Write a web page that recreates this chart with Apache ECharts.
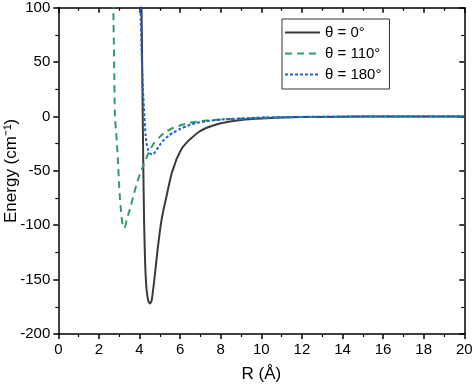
<!DOCTYPE html>
<html>
<head>
<meta charset="utf-8">
<script src="https://cdn.jsdelivr.net/npm/echarts@6/dist/echarts.min.js"></script>
<style>html,body{margin:0;padding:0;background:#fff;}#c{width:474px;height:387px;}</style>
</head>
<body>
<div id="c"></div>
<script>
var seriesNames = ['θ = 0°', 'θ = 110°', 'θ = 180°'];
var theta0 = [[4.07,150],[4.1,100],[4.13,50],[4.16,0],[4.19,-50],[4.23,-100],[4.28,-136],[4.33,-155],[4.38,-164],[4.44,-170],[4.52,-172],[4.6,-169],[4.68,-158],[4.76,-145],[4.83,-133],[4.9,-121],[4.98,-109],[5.06,-98],[5.18,-86],[5.3,-76],[5.45,-63],[5.59,-52],[5.72,-45],[5.83,-39],[6.1,-29],[6.3,-24.5],[6.49,-21],[6.9,-14.5],[7.31,-10.4],[7.7,-7.8],[8.13,-5.8],[8.79,-3.7],[9.4,-2.6],[10,-1.8],[11,-1],[12,-0.6],[14,-0.2],[16,-0.1],[20,0]];
var theta110 = [[2.66,150],[2.71,100],[2.75,50],[2.79,0],[2.84,-12],[2.88,-23],[2.93,-38],[2.99,-61],[3.04,-76],[3.09,-87],[3.14,-96],[3.19,-101],[3.25,-102.5],[3.31,-100],[3.37,-95],[3.45,-90],[3.53,-85],[3.7,-73],[3.86,-62],[4.02,-53],[4.19,-45],[4.43,-34],[4.7,-25],[5.01,-18.5],[5.3,-14],[5.67,-10.4],[6.1,-7.6],[6.49,-5.8],[7.31,-3.7],[8,-2.8],[8.79,-2.1],[10,-1.2],[12,-0.5],[14,-0.2],[20,0]];
var theta180 = [[4.0,150],[4.05,100],[4.1,60],[4.17,25],[4.24,0],[4.3,-17],[4.36,-26],[4.43,-31],[4.52,-34],[4.62,-35],[4.72,-34],[4.85,-30.5],[5.01,-26],[5.15,-22.5],[5.3,-19.8],[5.48,-17],[5.67,-14.8],[6.0,-11.5],[6.49,-7.6],[6.9,-5.6],[7.31,-4.3],[8,-2.9],[9,-1.8],[10,-1],[12,-0.4],[14,-0.15],[20,0]];
var xTicks = [0,2,4,6,8,10,12,14,16,18,20];
var yTicks = [-200,-150,-100,-50,0,50,100];

var font = 'Liberation Sans, Arial, sans-serif';
var axisLine = {show:true, onZero:false, lineStyle:{color:'#000', width:1.5}};
function xAx(pos, inside, labels){
  return {type:'value', position:pos, min:xTicks[0], max:xTicks[xTicks.length-1], interval:2,
    axisLine:axisLine,
    axisTick:{show:true, inside:inside, length:5, lineStyle:{color:'#000', width:1.5}},
    minorTick:{show:true, splitNumber:2, length:3, lineStyle:{color:'#000', width:1.2}},
    axisLabel:{show:labels, color:'#000', fontSize:15, fontFamily:font, margin:8},
    splitLine:{show:false},
    name: labels ? 'R (Å)' : '', nameLocation:'middle', nameGap:32, nameMoveOverlap:false,
    nameTextStyle:{color:'#000', fontSize:17, fontFamily:font}};
}
function yAx(pos, inside, labels){
  return {type:'value', position:pos, min:yTicks[0], max:yTicks[yTicks.length-1], interval:50,
    axisLine:axisLine,
    axisTick:{show:true, inside:inside, length:5, lineStyle:{color:'#000', width:1.5}},
    minorTick:{show:true, splitNumber:2, length:3, lineStyle:{color:'#000', width:1.2}},
    axisLabel:{show:labels, color:'#000', fontSize:15, fontFamily:font, margin:8},
    splitLine:{show:false},
    name: labels ? 'Energy (cm⁻¹)' : '', nameLocation:'middle', nameGap:47, nameRotate:90, nameMoveOverlap:false,
    nameTextStyle:{color:'#000', fontSize:17, fontFamily:font, verticalAlign:'middle'}};
}
var chart = echarts.init(document.getElementById('c'), null, {renderer:'canvas'});
chart.setOption({
  animation:false,
  backgroundColor:'#fff',
  grid:{left:58.3, right:9.7, top:7.7, bottom:53, containLabel:false, outerBoundsMode:'none'},
  xAxis:[xAx('bottom', false, true), xAx('top', true, false)],
  yAxis:[yAx('left', false, true), yAx('right', true, false)],
  legend:{
    show:true, left:282, top:19, orient:'vertical', itemGap:6, itemWidth:35, itemHeight:14,
    padding:[6,8,7,2], borderColor:'#333', borderWidth:1, borderRadius:0,
    textStyle:{color:'#000', fontSize:15, fontFamily:font},
    itemStyle:{opacity:0},
    data:seriesNames
  },
  series:[
    {name:seriesNames[0], type:'line', data:theta0, showSymbol:false, symbol:'none', smooth:0.2, clip:true,
      lineStyle:{color:'#3a3a3a', width:2, type:'solid'}, itemStyle:{color:'#3a3a3a'}},
    {name:seriesNames[1], type:'line', data:theta110, showSymbol:false, symbol:'none', smooth:0.2, clip:true,
      lineStyle:{color:'#2e9e68', width:2, type:[7,5]}, itemStyle:{color:'#2e9e68'}},
    {name:seriesNames[2], type:'line', data:theta180, showSymbol:false, symbol:'none', smooth:0.2, clip:true,
      lineStyle:{color:'#1f5fd6', width:2, type:[3,2]}, itemStyle:{color:'#1f5fd6'}}
  ]
});
</script>
</body>
</html>
